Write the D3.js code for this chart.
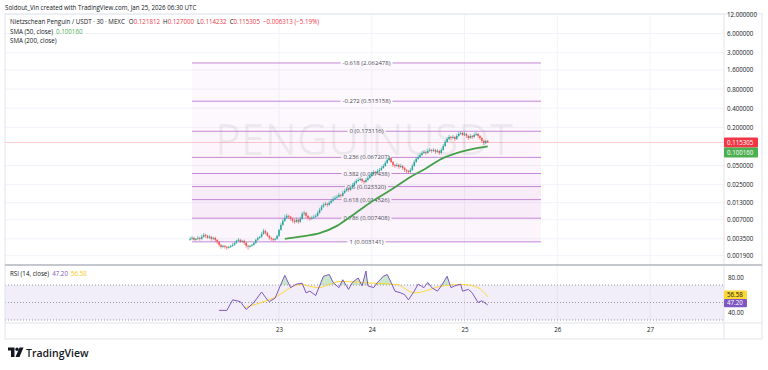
<!DOCTYPE html>
<html>
<head>
<meta charset="utf-8">
<style>
  body { margin: 0; background: #fff; }
  svg { display: block; font-family: "Open Sans", "Liberation Sans", sans-serif; }
  .axis text { fill: #131722; }
</style>
</head>
<body>
<script src="https://cdn.jsdelivr.net/npm/d3@7"></script>
<script>
// ---- data (30 min bars, first bar Jan 22 01:00 UTC) ----
const firstOpen = 0.00338;
const closes = [
  .00350,.00363,.00338,.00350,.00363,.00350,.00377,.00405,.00390,.00363,
  .00377,.00350,.00363,.00338,.00314,.00282,.00262,.00272,.00262,.00253,
  .00262,.00272,.00282,.00303,.00326,.00338,.00314,.00326,.00303,.00272,
  .00262,.00272,.00282,.00303,.00338,.00363,.00377,.00420,.00468,.00435,
  .00390,.00363,.00350,.00338,.00350,.00390,.00485,.00582,.00673,.00750,
  .00806,.00778,.00723,.00673,.00649,.00698,.00649,.00723,.00867,.00899,
  .00806,.00750,.00723,.00750,.00778,.00806,.00899,.0100,.0112,.0120,
  .0125,.0120,.0129,.0139,.0149,.0155,.0161,.0173,.0167,.0186,
  .0200,.0215,.0207,.0223,.0247,.0266,.0286,.0296,.0307,.0286,
  .0276,.0296,.0319,.0343,.0368,.0396,.0382,.0411,.0426,.0458,
  .0492,.0549,.0612,.0658,.0569,.0511,.0492,.0511,.0475,.0492,
  .0458,.0426,.0411,.0396,.0426,.0492,.0569,.0635,.0682,.0734,
  .0789,.0818,.0789,.0848,.0880,.0848,.0880,.0818,.0848,.0789,
  .0880,.1017,.1176,.1311,.1409,.1359,.1409,.1311,.1462,.1571,
  .1629,.1515,.1571,.1462,.1359,.1462,.1409,.1515,.1571,.1462,
  .1359,.1219,.1134,.121812,.115305
];
const highs = [
  .00377,.00390,.00377,.00363,.00390,.00377,.00405,.00435,.00420,.00405,
  .00405,.00390,.00377,.00377,.00350,.00326,.00292,.00282,.00282,.00272,
  .00272,.00282,.00303,.00314,.00338,.00363,.00350,.00338,.00338,.00314,
  .00282,.00282,.00292,.00314,.00350,.00377,.00390,.00451,.00503,.00485,
  .00451,.00405,.00377,.00363,.00363,.00405,.00503,.00626,.00723,.00836,
  .00867,.00836,.00806,.00750,.00723,.00750,.00723,.00778,.00932,.00967,
  .00932,.00836,.00778,.00806,.00836,.00867,.00967,.0108,.0120,.0129,
  .0134,.0129,.0139,.0149,.0161,.0167,.0173,.0186,.0179,.0200,
  .0215,.0230,.0223,.0238,.0266,.0286,.0307,.0319,.0330,.0319,
  .0296,.0319,.0343,.0368,.0396,.0426,.0411,.0442,.0458,.0492,
  .0529,.0590,.0658,.0708,.0682,.0590,.0529,.0549,.0529,.0529,
  .0511,.0475,.0442,.0426,.0458,.0529,.0612,.0682,.0734,.0789,
  .0848,.0880,.0848,.0912,.0946,.0912,.0946,.0912,.0912,.0880,
  .0946,.1093,.1264,.1409,.1515,.1462,.1515,.1462,.1571,.1690,
  .1731,.1690,.1690,.1629,.1515,.1571,.1515,.1629,.1690,.1629,
  .1515,.1409,.1264,.1264,.127000
];
const lows = [
  .00326,.00338,.00326,.00326,.00338,.00326,.00338,.00363,.00363,.00350,
  .00350,.00326,.00338,.00314,.00292,.00262,.00244,.00253,.00244,.00235,
  .00244,.00253,.00262,.00272,.00292,.00314,.00303,.00303,.00282,.00253,
  .00235,.00253,.00262,.00272,.00292,.00326,.00350,.00363,.00405,.00405,
  .00377,.00338,.00326,.00314,.00326,.00338,.00377,.00468,.00561,.00649,
  .00723,.00723,.00673,.00626,.00603,.00626,.00603,.00626,.00698,.00806,
  .00750,.00698,.00673,.00698,.00723,.00750,.00778,.00867,.00967,.0108,
  .0116,.0112,.0116,.0125,.0134,.0144,.0149,.0155,.0155,.0161,
  .0179,.0193,.0193,.0200,.0215,.0238,.0256,.0276,.0286,.0266,
  .0256,.0266,.0286,.0307,.0330,.0355,.0355,.0368,.0396,.0411,
  .0442,.0475,.0529,.0590,.0549,.0475,.0458,.0475,.0442,.0458,
  .0426,.0396,.0382,.0368,.0382,.0411,.0475,.0549,.0612,.0658,
  .0708,.0761,.0734,.0761,.0818,.0789,.0818,.0761,.0789,.0734,
  .0761,.0848,.0981,.1134,.1264,.1264,.1311,.1219,.1264,.1409,
  .1515,.1462,.1462,.1359,.1264,.1311,.1311,.1359,.1462,.1359,
  .1264,.1134,.1055,.1093,.114232
];

// SMA 50 read at a few bars
const smaBars   = [49, 57, 67, 76, 83, 93, 104, 114, 122, 129, 140, 147, 154];
const smaValues = [.0035, .0038, .0043, .0056, .0078, .0129, .0207, .0330, .0450, .0612, .0818, .0920, .100160];

// RSI 14 and its moving average
const rsiBars   = [15,19,22,26,29,33,37,40,41,44,47,49,52,55,58,60,62,65,67,69,72,74,77,79,82,84,87,89,91,92,95,97,100,102,104,106,109,111,113,116,118,121,123,125,128,130,133,135,137,140,141,144,146,149,151,154];
const rsiValues = [41,41,53,51,42,50,62,53,51,55,71,81,67,71,72,61,63,58,69,80,82,73,67,76,65,73,78,69,86,69,67,73,80,82,73,63,61,59,53,63,71,67,73,67,63,69,80,67,69,71,63,65,61,50,52,47.20];
const maBars    = [28, 43, 57, 66, 78, 95, 107, 116, 131, 141, 149, 154];
const maValues  = [44, 55, 70.6, 67, 74, 72, 70.6, 61, 69, 70.6, 67, 56.58];

// Fibonacci retracement
const fibLevels = [-0.618, -0.272, 0, 0.236, 0.382, 0.5, 0.618, 0.786, 1];
const fibPrices = [2.062478, 0.515158, 0.173116, 0.067207, 0.037438, 0.023320, 0.014526, 0.007408, 0.003141];

// legend values and axis ticks
const ohlcLabels = ["O", "H", "L", "C"];
const ohlcValues = [0.121812, 0.127000, 0.114232, 0.115305];
const changeText = "\u22120.006313 (\u22125.19%)";
const smaLast = 0.100160;
const rsiLast = 47.20, rsiMaLast = 56.58;
const priceTicks = [12, 6, 3, 1.6, 0.8, 0.4, 0.2, 0.05, 0.025, 0.013, 0.007, 0.0035, 0.0019];
const rsiTicks = [80, 40];
const dayTicks = [23, 24, 25, 26, 27];

// ---- layout ----
const W = 768, H = 370;
const L = 5, R = 762, paneR = 724;
const paneTop = 14, mainBot = 265, rsiBot = 323, axisBot = 339;
const fibX0 = 192, fibX1 = 541;
const up = "#26a69a", down = "#ef5350", red = "#f23645", green = "#4caf50", purple = "#7e57c2", yellow = "#fdd835";

const svg = d3.select("body").append("svg").attr("width", W).attr("height", H);
svg.append("rect").attr("width", W).attr("height", H).attr("fill", "#fff");

const x = d3.scaleUtc().domain([Date.UTC(2026, 0, 23), Date.UTC(2026, 0, 27)]).range([279, 650]);
const barTime = i => new Date(Date.UTC(2026, 0, 22, 1) + i * 30 * 60000);
const y = d3.scaleLog().domain([0.0019, 12]).range([255.7, 14.4]);
const ry = d3.scaleLinear().domain([30, 70]).range([320, 285]);

const defs = svg.append("defs");
defs.append("clipPath").attr("id", "mainClip").append("rect")
  .attr("x", L).attr("y", paneTop).attr("width", paneR - L).attr("height", mainBot - paneTop);
defs.append("clipPath").attr("id", "rsiClip").append("rect")
  .attr("x", L).attr("y", mainBot).attr("width", paneR - L).attr("height", rsiBot - mainBot);
defs.append("clipPath").attr("id", "obClip").append("rect")
  .attr("x", L).attr("y", mainBot).attr("width", paneR - L).attr("height", ry(70) - mainBot);

// ---- grid ----
const dayDates = dayTicks.map(d => new Date(Date.UTC(2026, 0, d)));
const grid = svg.append("g").attr("stroke", "#f0f3fa").attr("stroke-width", 1);
grid.selectAll(".hg").data(priceTicks).join("line")
  .attr("x1", L).attr("x2", paneR).attr("y1", d => y(d)).attr("y2", d => y(d));
grid.selectAll(".vg").data(dayDates).join("line")
  .attr("x1", d => x(d)).attr("x2", d => x(d)).attr("y1", paneTop).attr("y2", rsiBot);

// ---- main pane ----
const main = svg.append("g").attr("clip-path", "url(#mainClip)");

// fib bands
const bandOpacity = [0.04, 0.04, 0.06, 0.06, 0.08, 0.11, 0.11, 0.06];
main.selectAll(".band").data(d3.range(fibPrices.length - 1)).join("rect")
  .attr("x", fibX0).attr("width", fibX1 - fibX0)
  .attr("y", i => y(fibPrices[i]))
  .attr("height", i => y(fibPrices[i + 1]) - y(fibPrices[i]))
  .attr("fill", "#c74fc4").attr("fill-opacity", i => bandOpacity[i]);

// watermark
main.append("text").attr("x", 364).attr("y", 155).attr("text-anchor", "middle")
  .attr("font-size", 44).attr("textLength", 298).attr("lengthAdjust", "spacingAndGlyphs")
  .attr("fill", "#131722").attr("fill-opacity", 0.06).text("PENGUINUSDT");

// fib lines with labels
const fibG = main.append("g");
fibLevels.forEach((lv, i) => {
  const yy = y(fibPrices[i]);
  const cx = (fibX0 + fibX1) / 2;
  const t = fibG.append("text").attr("x", cx).attr("y", yy + 2.1)
    .attr("text-anchor", "middle").attr("font-size", 6).attr("fill", "#4a4a55")
    .text(`${lv} (${fibPrices[i].toFixed(6)})`);
  const w = t.node().getComputedTextLength();
  [[fibX0, cx - w / 2 - 2], [cx + w / 2 + 2, fibX1]].forEach(s => {
    fibG.append("line").attr("x1", s[0]).attr("x2", s[1]).attr("y1", yy).attr("y2", yy)
      .attr("stroke", "#c486d6").attr("stroke-width", 1);
  });
});

// last price line
main.append("line").attr("x1", L).attr("x2", paneR)
  .attr("y1", y(ohlcValues[3])).attr("y2", y(ohlcValues[3]))
  .attr("stroke", red).attr("stroke-opacity", 0.25);

// candles
const bars = closes.map((c, i) => ({ t: barTime(i), o: i ? closes[i - 1] : firstOpen, h: highs[i], l: lows[i], c }));
const cg = main.append("g");
cg.selectAll(".wick").data(bars).join("line")
  .attr("x1", d => x(d.t)).attr("x2", d => x(d.t))
  .attr("y1", d => y(d.h)).attr("y2", d => y(d.l))
  .attr("stroke", d => d.c >= d.o ? up : down).attr("stroke-width", 0.6);
cg.selectAll(".body").data(bars).join("rect")
  .attr("x", d => x(d.t) - 0.75).attr("width", 1.5)
  .attr("y", d => y(Math.max(d.o, d.c)))
  .attr("height", d => Math.max(0.7, Math.abs(y(d.o) - y(d.c))))
  .attr("fill", d => d.c >= d.o ? up : down);

// SMA 50
const smaPts = smaBars.map((b, i) => [b, smaValues[i]]);
main.append("path").datum(smaPts)
  .attr("d", d3.line().x(d => x(barTime(d[0]))).y(d => y(d[1])).curve(d3.curveMonotoneX))
  .attr("fill", "none").attr("stroke", "#43a047").attr("stroke-width", 1.8);

// ---- RSI pane ----
const rsi = svg.append("g").attr("clip-path", "url(#rsiClip)");
rsi.append("rect").attr("x", L).attr("width", paneR - L)
  .attr("y", ry(70)).attr("height", ry(30) - ry(70)).attr("fill", purple).attr("fill-opacity", 0.1);
rsi.selectAll(".lvl").data([70, 50, 30]).join("line")
  .attr("x1", L).attr("x2", paneR).attr("y1", d => ry(d)).attr("y2", d => ry(d))
  .attr("stroke", "#9598a1").attr("stroke-dasharray", "1,2");

const rsiPts = rsiBars.map((b, i) => [b, rsiValues[i]]);
rsi.append("path").datum(rsiPts).attr("clip-path", "url(#obClip)")
  .attr("d", d3.area().x(d => x(barTime(d[0]))).y0(ry(70)).y1(d => ry(d[1])))
  .attr("fill", green).attr("fill-opacity", 0.3);
const maPts = maBars.map((b, i) => [b, maValues[i]]);
rsi.append("path").datum(maPts)
  .attr("d", d3.line().x(d => x(barTime(d[0]))).y(d => ry(d[1])).curve(d3.curveMonotoneX))
  .attr("fill", "none").attr("stroke", yellow).attr("stroke-width", 1);
rsi.append("path").datum(rsiPts)
  .attr("d", d3.line().x(d => x(barTime(d[0]))).y(d => ry(d[1])))
  .attr("fill", "none").attr("stroke", purple).attr("stroke-width", 1);

// ---- frame ----
const fr = svg.append("g").attr("fill", "none");
fr.append("rect").attr("x", L).attr("y", paneTop).attr("width", R - L).attr("height", axisBot - paneTop)
  .attr("stroke", "#e0e3eb");
fr.append("line").attr("x1", paneR).attr("x2", paneR).attr("y1", paneTop).attr("y2", axisBot).attr("stroke", "#e0e3eb");
fr.append("line").attr("x1", L).attr("x2", R).attr("y1", rsiBot).attr("y2", rsiBot).attr("stroke", "#e0e3eb");
fr.append("line").attr("x1", L).attr("x2", R).attr("y1", mainBot).attr("y2", mainBot)
  .attr("stroke", "#b2b5be").attr("stroke-width", 1.5);

// ---- axes ----
const priceAxis = svg.append("g").attr("class", "axis").attr("transform", `translate(${paneR},0)`)
  .call(d3.axisRight(y).tickValues(priceTicks).tickFormat(d3.format(".6f")).tickSize(0).tickPadding(3));
priceAxis.select(".domain").remove();
priceAxis.selectAll("text").attr("font-size", 6.2).attr("font-family", "Open Sans");

const rsiAxis = svg.append("g").attr("class", "axis").attr("transform", `translate(${paneR},0)`)
  .call(d3.axisRight(ry).tickValues(rsiTicks).tickFormat(d3.format(".2f")).tickSize(0).tickPadding(4));
rsiAxis.select(".domain").remove();
rsiAxis.selectAll("text").attr("font-size", 6.2).attr("font-family", "Open Sans").attr("dy", "0.45em");

const timeAxis = svg.append("g").attr("class", "axis").attr("transform", `translate(0,${rsiBot})`)
  .call(d3.axisBottom(x).tickValues(dayDates).tickFormat(d3.utcFormat("%-d")).tickSize(0).tickPadding(5));
timeAxis.select(".domain").remove();
timeAxis.selectAll("text").attr("font-size", 6.2).attr("font-family", "Open Sans");

// value tags on the scales
function tag(yc, txt, fill, color, w, h) {
  svg.append("rect").attr("x", paneR).attr("y", yc - h / 2).attr("width", w).attr("height", h)
    .attr("rx", 1).attr("fill", fill);
  svg.append("text").attr("x", paneR + 3).attr("y", yc + 2.2).attr("font-size", 6.2)
    .attr("fill", color).text(txt);
}
const pY = y(ohlcValues[3]);
tag(pY, ohlcValues[3].toFixed(6), red, "#fff", 34, 10);
tag(Math.max(y(smaLast), pY + 10), smaLast.toFixed(6), green, "#fff", 34, 10);
tag(ry(rsiMaLast) - 2, rsiMaLast.toFixed(2), yellow, "#131722", 23, 8.4);
tag(ry(rsiMaLast) + 6.4, rsiLast.toFixed(2), purple, "#fff", 23, 8.4);

// ---- legends ----
const fs = 6.2, ink = "#131722";
svg.append("text").attr("x", 5).attr("y", 9.5).attr("font-size", fs).attr("fill", ink)
  .text("Soldout_Vin created with TradingView.com, Jan 25, 2026 06:30 UTC");

const l1 = svg.append("text").attr("x", 10).attr("y", 24).attr("font-size", fs).attr("fill", ink);
l1.append("tspan").text("Nietzschean Penguin / USDT \u00b7 30 \u00b7 MEXC");
ohlcLabels.forEach((lab, i) => {
  l1.append("tspan").attr("dx", i ? 3 : 4).text(lab);
  l1.append("tspan").attr("fill", red).text(ohlcValues[i].toFixed(6));
});
l1.append("tspan").attr("dx", 3).attr("fill", red).text(changeText);

const l2 = svg.append("text").attr("x", 10).attr("y", 33.5).attr("font-size", fs).attr("fill", ink);
l2.append("tspan").text("SMA (50, close)");
l2.append("tspan").attr("dx", 3).attr("fill", green).text(smaLast.toFixed(6));
svg.append("text").attr("x", 10).attr("y", 43).attr("font-size", fs).attr("fill", ink).text("SMA (200, close)");

const l4 = svg.append("text").attr("x", 10).attr("y", 276).attr("font-size", fs).attr("fill", ink);
l4.append("tspan").text("RSI (14, close)");
l4.append("tspan").attr("dx", 3).attr("fill", purple).text(rsiLast.toFixed(2));
l4.append("tspan").attr("dx", 3).attr("fill", "#f9c80e").text(rsiMaLast.toFixed(2));

// ---- TradingView logo ----
const logo = svg.append("g").attr("fill", ink);
logo.append("path").attr("d", "M8,347.5 H14.5 V357 H11 V350.5 H8 Z");
logo.append("circle").attr("cx", 17).attr("cy", 349.2).attr("r", 1.7);
logo.append("path").attr("d", "M19.5,347.5 H23.5 L19.5,357 H15.5 Z");
svg.append("text").attr("x", 26).attr("y", 356.5).attr("font-size", 10.5).attr("font-weight", 600)
  .attr("fill", ink).text("TradingView");
</script>
</body>
</html>
